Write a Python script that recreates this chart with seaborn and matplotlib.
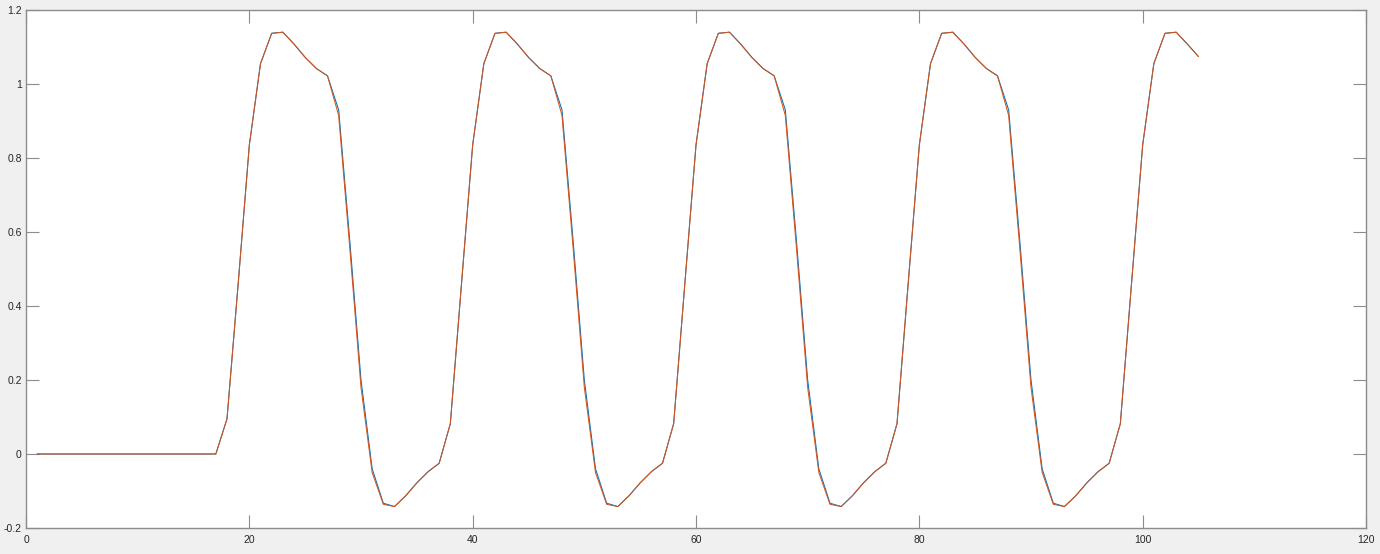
import matplotlib
matplotlib.use("Agg")
import matplotlib.pyplot as plt
import numpy as np
import pandas as pd
import seaborn as sns

# sample index 1..105
steps = list(range(1, 106))

# blue trace (reference)
y_ref = [0, 0, 0, 0, 0, 0, 0, 0, 0, 0, 0, 0, 0, 0, 0, 0, 0,
         0.095, 0.46, 0.835, 1.055, 1.137, 1.140, 1.108, 1.072, 1.042, 1.022,
         0.930, 0.575, 0.200, -0.040, -0.133, -0.142, -0.113, -0.078, -0.048, -0.025,
         0.082, 0.46, 0.835, 1.055, 1.137, 1.140, 1.108, 1.072, 1.042, 1.022,
         0.930, 0.575, 0.200, -0.040, -0.133, -0.142, -0.113, -0.078, -0.048, -0.025,
         0.082, 0.46, 0.835, 1.055, 1.137, 1.140, 1.108, 1.072, 1.042, 1.022,
         0.930, 0.575, 0.200, -0.040, -0.133, -0.142, -0.113, -0.078, -0.048, -0.025,
         0.082, 0.46, 0.835, 1.055, 1.137, 1.140, 1.108, 1.072, 1.042, 1.022,
         0.930, 0.575, 0.200, -0.040, -0.133, -0.142, -0.113, -0.078, -0.048, -0.025,
         0.082, 0.46, 0.835, 1.055, 1.137, 1.140, 1.108, 1.074]

# orange trace (model), drawn on top
y_sim = [0, 0, 0, 0, 0, 0, 0, 0, 0, 0, 0, 0, 0, 0, 0, 0, 0,
         0.095, 0.46, 0.835, 1.055, 1.137, 1.140, 1.108, 1.072, 1.042, 1.022,
         0.915, 0.555, 0.180, -0.050, -0.136, -0.142, -0.113, -0.078, -0.048, -0.025,
         0.082, 0.46, 0.835, 1.055, 1.137, 1.140, 1.108, 1.072, 1.042, 1.022,
         0.915, 0.555, 0.180, -0.050, -0.136, -0.142, -0.113, -0.078, -0.048, -0.025,
         0.082, 0.46, 0.835, 1.055, 1.137, 1.140, 1.108, 1.072, 1.042, 1.022,
         0.915, 0.555, 0.180, -0.050, -0.136, -0.142, -0.113, -0.078, -0.048, -0.025,
         0.082, 0.46, 0.835, 1.055, 1.137, 1.140, 1.108, 1.072, 1.042, 1.022,
         0.915, 0.555, 0.180, -0.050, -0.136, -0.142, -0.113, -0.078, -0.048, -0.025,
         0.082, 0.46, 0.835, 1.055, 1.137, 1.140, 1.108, 1.074]

x_ticks = [0, 20, 40, 60, 80, 100, 120]
y_ticks = [-0.2, 0, 0.2, 0.4, 0.6, 0.8, 1, 1.2]
y_tick_labels = ["-0.2", "0", "0.2", "0.4", "0.6", "0.8", "1", "1.2"]

blue = (0.0, 0.447, 0.741)
orange = (0.85, 0.325, 0.098)
gray_edge = (0.55, 0.55, 0.55)
text_col = (0.15, 0.15, 0.15)

sns.set_style("white")
plt.rcParams['font.family'] = ['Liberation Sans', 'DejaVu Sans']

df = pd.DataFrame({"step": steps, "ref": y_ref, "sim": y_sim})

fig = plt.figure(figsize=(13.8, 5.54), dpi=100)
fig.patch.set_facecolor((0.94, 0.94, 0.94))
ax = fig.add_axes([26/1380, 26/554, 1340/1380, 518/554])
ax.set_facecolor("white")

sns.lineplot(data=df, x="step", y="ref", color=blue, linewidth=0.75, ax=ax)
sns.lineplot(data=df, x="step", y="sim", color=orange, linewidth=0.75, ax=ax)

ax.set_xlim(0, 120)
ax.set_ylim(-0.2, 1.2)
ax.set_xticks(x_ticks)
ax.set_yticks(y_ticks)
ax.set_yticklabels(y_tick_labels)
ax.set_xlabel("")
ax.set_ylabel("")

# matlab-like box with inward ticks on all sides
for side in ax.spines.values():
    side.set_visible(True)
    side.set_color(gray_edge)
    side.set_linewidth(1.0)
ax.tick_params(axis="both", direction="in", length=9.5, width=0.8,
               color=gray_edge, labelcolor=text_col, labelsize=7.5,
               top=True, right=True, bottom=True, left=True)
ax.tick_params(axis="x", pad=5)
ax.tick_params(axis="y", pad=3)

plt.savefig("out.png", dpi=100, facecolor=fig.get_facecolor())
